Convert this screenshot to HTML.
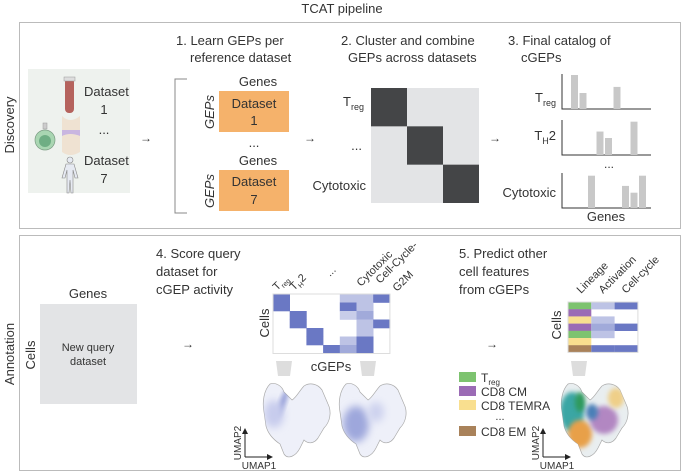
<!DOCTYPE html>
<html><head><meta charset="utf-8">
<style>
html,body{margin:0;padding:0;background:#fff;}
svg{display:block;font-family:"Liberation Sans",Arial,sans-serif;}
text{fill:#333;}
</style></head>
<body>
<svg id="fig" width="685" height="473" viewBox="0 0 685 473" xmlns="http://www.w3.org/2000/svg">
<defs>
 <filter id="blur2" x="-50%" y="-50%" width="200%" height="200%"><feGaussianBlur stdDeviation="2.5"/></filter>
 <filter id="blur4" x="-50%" y="-50%" width="200%" height="200%"><feGaussianBlur stdDeviation="4"/></filter>
 <clipPath id="umapClip"><path d="M8,2 C14,0 20,4 22,10 L30,18 C34,16 38,8 42,4 C48,0 56,2 60,8 L66,22 C70,30 68,40 62,46 L56,56 C52,62 46,62 42,58 L38,66 C34,74 26,78 22,72 L18,62 C12,58 6,52 4,44 L2,30 C0,20 2,8 8,2 Z"/></clipPath>
 <marker id="ah" markerWidth="6" markerHeight="6" refX="5" refY="3" orient="auto"><path d="M0,0 L6,3 L0,6 Z" fill="#222"/></marker>
</defs>

<text x="342" y="13" text-anchor="middle" font-size="13">TCAT pipeline</text>

<!-- Discovery panel -->
<rect x="19.5" y="22.5" width="661" height="206" fill="none" stroke="#bbb" stroke-width="1"/>
<text transform="translate(14,125) rotate(-90)" text-anchor="middle" font-size="13">Discovery</text>

<g>
 <rect x="28" y="69" width="102" height="124" fill="#eef2ee"/>
 <rect x="65" y="78" width="9" height="35" rx="4" fill="#b5635d"/>
 <rect x="64" y="77" width="11" height="4" fill="#ddd" stroke="#999" stroke-width="0.5"/>
 <path d="M62,116 Q70,124 80,116 L80,130 Q70,136 62,130 Z" fill="#efe2d2"/>
 <rect x="62" y="130" width="18" height="6" fill="#c9b6e0"/>
 <path d="M62,136 Q70,132 80,136 L80,152 Q70,158 62,152 Z" fill="#efe2d2"/>
 <circle cx="45" cy="140" r="10" fill="#a9d6b2" stroke="#7a9a82" stroke-width="0.7"/>
 <circle cx="45" cy="141" r="6" fill="#6fae84"/>
 <rect x="43" y="123" width="4" height="6" fill="#ccc" stroke="#999" stroke-width="0.5"/>
 <circle cx="70" cy="160" r="3" fill="#e6eaf2" stroke="#888" stroke-width="0.6"/>
 <path d="M66,164 L74,164 L78,178 L75,178 L73,170 L73,193 L71,193 L70,180 L69,193 L67,193 L67,170 L65,178 L62,178 Z" fill="#e6eaf2" stroke="#888" stroke-width="0.6"/>
 <text x="84" y="96" font-size="13">Dataset</text>
 <text x="104" y="114" font-size="13" text-anchor="middle">1</text>
 <text x="104" y="134" font-size="13" text-anchor="middle">...</text>
 <text x="84" y="165" font-size="13">Dataset</text>
 <text x="104" y="183" font-size="13" text-anchor="middle">7</text>
</g>
<text x="140" y="142" font-size="12">→</text>

<g>
 <text x="176" y="45" font-size="13">1. Learn GEPs per</text>
 <text x="190" y="62" font-size="13">reference dataset</text>
 <path d="M187,79 L175,79 L175,213 L187,213" fill="none" stroke="#888" stroke-width="1"/>
 <text x="258" y="86" font-size="13" text-anchor="middle">Genes</text>
 <rect x="219" y="91" width="70" height="41" fill="#f5b26b"/>
 <text x="254" y="108" font-size="13" text-anchor="middle">Dataset</text>
 <text x="254" y="125" font-size="13" text-anchor="middle">1</text>
 <text transform="translate(214,112) rotate(-90)" font-size="13" font-style="italic" text-anchor="middle">GEPs</text>
 <text x="254" y="147" font-size="13" text-anchor="middle">...</text>
 <text x="258" y="165" font-size="13" text-anchor="middle">Genes</text>
 <rect x="219" y="170" width="70" height="41" fill="#f5b26b"/>
 <text x="254" y="186" font-size="13" text-anchor="middle">Dataset</text>
 <text x="254" y="204" font-size="13" text-anchor="middle">7</text>
 <text transform="translate(214,191) rotate(-90)" font-size="13" font-style="italic" text-anchor="middle">GEPs</text>
</g>
<text x="304" y="142" font-size="12">→</text>

<g>
 <text x="341" y="45" font-size="13">2. Cluster and combine</text>
 <text x="348" y="62" font-size="13">GEPs across datasets</text>
 <g id="clusterMatrix"></g>
 <text x="364" y="106" font-size="13" text-anchor="end">T<tspan font-size="9" dy="4">reg</tspan></text>
 <text x="362" y="150" font-size="13" text-anchor="end">...</text>
 <text x="366" y="190" font-size="13" text-anchor="end">Cytotoxic</text>
</g>
<text x="489" y="142" font-size="12">→</text>

<g>
 <text x="508" y="45" font-size="13">3. Final catalog of</text>
 <text x="521" y="62" font-size="13">cGEPs</text>
 <text x="556" y="102" font-size="13" text-anchor="end">T<tspan font-size="9" dy="4">reg</tspan></text>
 <text x="556" y="140" font-size="13" text-anchor="end">T<tspan font-size="9" dy="4">H</tspan><tspan dy="-4">2</tspan></text>
 <text x="609" y="168" font-size="12" text-anchor="middle">...</text>
 <text x="556" y="197" font-size="13" text-anchor="end">Cytotoxic</text>
 <text x="606" y="221" font-size="13" text-anchor="middle">Genes</text>
 <g id="barCharts"></g>
</g>

<!-- Annotation panel -->
<rect x="19.5" y="235.5" width="661" height="235" fill="none" stroke="#bbb" stroke-width="1"/>
<text transform="translate(14,354) rotate(-90)" text-anchor="middle" font-size="13">Annotation</text>

<g>
 <text x="88" y="298" font-size="13" text-anchor="middle">Genes</text>
 <text transform="translate(35,355) rotate(-90)" font-size="13" text-anchor="middle">Cells</text>
 <rect x="40" y="304" width="97" height="100" fill="#e3e4e6"/>
 <text x="88" y="351" font-size="11" text-anchor="middle">New query</text>
 <text x="88" y="365" font-size="11" text-anchor="middle">dataset</text>
</g>
<text x="182" y="348" font-size="12">→</text>

<g>
 <text x="156" y="258" font-size="13">4. Score query</text>
 <text x="156" y="276" font-size="13">dataset for</text>
 <text x="156" y="294" font-size="13">cGEP activity</text>
 <text transform="translate(269,323) rotate(-90)" font-size="13" text-anchor="middle">Cells</text>
 <text x="331" y="371" font-size="13" text-anchor="middle">cGEPs</text>
 <g id="scoreHeatmap"></g>
 <g font-size="11">
  <text transform="translate(277,291) rotate(-45)">T<tspan font-size="7" dy="3">reg</tspan></text>
  <text transform="translate(294,291) rotate(-45)">T<tspan font-size="7" dy="3">H</tspan><tspan dy="-3">2</tspan></text>
  <text transform="translate(330,277) rotate(-45)">...</text>
  <text transform="translate(361,287) rotate(-45)">Cytotoxic</text>
  <text transform="translate(380,284) rotate(-45)">Cell-Cycle-</text>
  <text transform="translate(397,292) rotate(-45)">G2M</text>
 </g>
 <path d="M276,361 L292,361 L290,376 L278,376 Z" fill="#ddd"/>
 <path d="M360,361 L376,361 L374,376 L362,376 Z" fill="#ddd"/>
 <g transform="translate(262,382)">
  <path d="M8,2 C14,0 20,4 22,10 L30,18 C34,16 38,8 42,4 C48,0 56,2 60,8 L66,22 C70,30 68,40 62,46 L56,56 C52,62 46,62 42,58 L38,66 C34,74 26,78 22,72 L18,62 C12,58 6,52 4,44 L2,30 C0,20 2,8 8,2 Z" fill="#eef0f9" stroke="#aaa" stroke-width="0.7"/>
  <g clip-path="url(#umapClip)"><ellipse cx="20" cy="22" rx="3" ry="15" fill="#8e98d6" filter="url(#blur2)" transform="rotate(20 20 22)"/><ellipse cx="12" cy="32" rx="10" ry="14" fill="#c7cced" filter="url(#blur4)"/></g>
 </g>
 <g transform="translate(338,382)">
  <path d="M8,2 C14,0 20,4 22,10 L30,18 C34,16 38,8 42,4 C48,0 56,2 60,8 L66,22 C70,30 68,40 62,46 L56,56 C52,62 46,62 42,58 L38,66 C34,74 26,78 22,72 L18,62 C12,58 6,52 4,44 L2,30 C0,20 2,8 8,2 Z" fill="#eef0f9" stroke="#aaa" stroke-width="0.7"/>
  <g clip-path="url(#umapClip)"><ellipse cx="18" cy="42" rx="13" ry="18" fill="#9ea7dc" filter="url(#blur4)"/><ellipse cx="38" cy="30" rx="8" ry="10" fill="#cdd2ee" filter="url(#blur4)"/></g>
 </g>
 <g>
  <line x1="245" y1="457" x2="245" y2="429" stroke="#222" marker-end="url(#ah)"/>
  <line x1="245" y1="457" x2="272" y2="457" stroke="#222" marker-end="url(#ah)"/>
  <text transform="translate(241,443) rotate(-90)" font-size="10" text-anchor="middle">UMAP2</text>
  <text x="259" y="469" font-size="10" text-anchor="middle">UMAP1</text>
 </g>
</g>
<text x="486" y="348" font-size="12">→</text>

<g>
 <text x="459" y="258" font-size="13">5. Predict other</text>
 <text x="459" y="276" font-size="13">cell features</text>
 <text x="459" y="294" font-size="13">from cGEPs</text>
 <text transform="translate(561,325) rotate(-90)" font-size="13" text-anchor="middle">Cells</text>
 <g id="featHeatmap"></g>
 <g font-size="11">
  <text transform="translate(581,294) rotate(-45)">Lineage</text>
  <text transform="translate(603,294) rotate(-45)">Activation</text>
  <text transform="translate(626,294) rotate(-45)">Cell-cycle</text>
 </g>
 <g id="legend"></g>
 <path d="M571,361 L587,361 L585,376 L573,376 Z" fill="#ddd"/>
 <g transform="translate(560,382)">
  <path d="M8,2 C14,0 20,4 22,10 L30,18 C34,16 38,8 42,4 C48,0 56,2 60,8 L66,22 C70,30 68,40 62,46 L56,56 C52,62 46,62 42,58 L38,66 C34,74 26,78 22,72 L18,62 C12,58 6,52 4,44 L2,30 C0,20 2,8 8,2 Z" fill="#e9eef0" stroke="#aaa" stroke-width="0.7"/>
  <g clip-path="url(#umapClip)">
   <ellipse cx="12" cy="30" rx="12" ry="20" fill="#3aa6a4" filter="url(#blur2)"/>
   <ellipse cx="20" cy="20" rx="5" ry="10" fill="#2f9a5c" filter="url(#blur2)"/>
   <ellipse cx="20" cy="52" rx="12" ry="14" fill="#e8a048" filter="url(#blur2)"/>
   <ellipse cx="44" cy="38" rx="14" ry="14" fill="#b287c2" filter="url(#blur2)"/>
   <ellipse cx="56" cy="16" rx="8" ry="10" fill="#efcf88" filter="url(#blur2)"/>
   <ellipse cx="32" cy="30" rx="6" ry="8" fill="#4a7fb7" filter="url(#blur2)"/>
  </g>
 </g>
 <g>
  <line x1="543" y1="457" x2="543" y2="429" stroke="#222" marker-end="url(#ah)"/>
  <line x1="543" y1="457" x2="570" y2="457" stroke="#222" marker-end="url(#ah)"/>
  <text transform="translate(539,443) rotate(-90)" font-size="10" text-anchor="middle">UMAP2</text>
  <text x="557" y="469" font-size="10" text-anchor="middle">UMAP1</text>
 </g>
</g>
</svg>

<script>
// ---- data ----
const clusterBlocks = [0, 1, 2];
const barGenes1 = [0, 1, 5];
const barVals1 = [1.0, 0.47, 0.65];
const barGenes2 = [3, 4, 7];
const barVals2 = [0.69, 0.5, 0.98];
const barGenes3 = [2, 6, 7, 8];
const barVals3 = [0.95, 0.65, 0.45, 0.95];
const scoreCols = ["Treg", "TH2", "...", "...", "Cytotoxic", "Cell-Cycle", "G2M"];
const scoreMatrix = [
 [1, 0, 0, 0, 0.25, 0.25, 1],
 [1, 0, 0, 0, 1, 0.25, 0],
 [0, 1, 0, 0, 0.15, 0.5, 0],
 [0, 1, 0, 0, 0, 0.25, 1],
 [0, 0, 1, 0, 0, 0.25, 0],
 [0, 0, 1, 0, 0.25, 1, 0],
 [0, 0, 0, 1, 0.5, 1, 0]
];
const lineageRows = ["Treg", "CD8 CM", "CD8 TEMRA", "CD8 CM", "Treg", "CD8 TEMRA", "CD8 EM"];
const activationVals = [0.25, 0, 0.25, 0.5, 0.25, 0, 1];
const cellCycleVals = [1, 0, 0, 1, 0, 0, 1];
const legendLabels = ["Treg", "CD8 CM", "CD8 TEMRA", "CD8 EM"];
const legendColors = ["#7dc36f", "#9b6bb5", "#f9df8f", "#a9825a"];

const NS = "http://www.w3.org/2000/svg";
function mk(tag, attrs, parent){ const e=document.createElementNS(NS,tag); for(const k in attrs) e.setAttribute(k,attrs[k]); parent.appendChild(e); return e; }
function blue(v){ if(v<=0) return null; const a=[216,220,240], b=[106,120,196]; const t=Math.min(1,v); return `rgb(${Math.round(a[0]+(b[0]-a[0])*t)},${Math.round(a[1]+(b[1]-a[1])*t)},${Math.round(a[2]+(b[2]-a[2])*t)})`; }

// cluster matrix
const cm = document.getElementById('clusterMatrix');
const cmX = 371, cmY = 88, cmS = 108, nB = clusterBlocks.length, bs = cmS/nB;
const bg = mk('rect',{x:cmX,y:cmY,width:cmS,height:cmS+7,fill:'#e3e4e6'},cm);


clusterBlocks.forEach(i=>{
 const r = mk('rect',{x:cmX+i*bs,y:cmY+i*(cmS+7)/nB,width:bs,height:(cmS+7)/nB,fill:'#444547'},cm);
 
 
});

// bar charts
const bc = document.getElementById('barCharts');
const charts = [{g:barGenes1,v:barVals1,base:109},{g:barGenes2,v:barVals2,base:155},{g:barGenes3,v:barVals3,base:208}];
const axX0 = 562, axX1 = 651, barH = 34;
function xGene(i){ return 571 + i*8.5; }
function yVal(v, base){ return base - v*barH; }
charts.forEach((c,ci)=>{
 const ax = mk('path',{d:`M${axX0},${c.base-35} L${axX0},${c.base} L${axX1},${c.base}`,fill:'none',stroke:'#333','stroke-width':1},bc);
 
 
 c.g.forEach((gi,k)=>{
  const y = yVal(c.v[k], c.base);
  const r = mk('rect',{x:xGene(gi),y:y,width:7,height:c.base-y,fill:'#c8c8c8'},bc);
  
  
 });
});

// score heatmap
const sh = document.getElementById('scoreHeatmap');
const shX=273, shY=294, cw=16.7, rh=8.5;
scoreMatrix.forEach((row,ri)=>row.forEach((v,ci)=>{
 const col = blue(v); if(!col) return;
 const r = mk('rect',{x:shX+ci*cw,y:shY+ri*rh,width:cw+0.3,height:rh+0.3,fill:col},sh);
 
 
}));
const shb = mk('rect',{x:shX,y:shY,width:cw*scoreCols.length,height:rh*scoreMatrix.length,fill:'none',stroke:'#ddd','stroke-width':1},sh);



// feature heatmap
const fh = document.getElementById('featHeatmap');
const fx=568, fy=302, fw=23.3, fr=7.2;
lineageRows.forEach((lab,ri)=>{
 const r = mk('rect',{x:fx,y:fy+ri*fr,width:fw,height:fr+0.2,fill:legendColors[legendLabels.indexOf(lab)]},fh);
 
 
});
[activationVals, cellCycleVals].forEach((vals,ci)=>vals.forEach((v,ri)=>{
 const col = blue(v); if(!col) return;
 const r = mk('rect',{x:fx+(ci+1)*fw,y:fy+ri*fr,width:fw,height:fr+0.2,fill:col},fh);
 
 
}));
const fb = mk('rect',{x:fx,y:fy,width:fw*3,height:fr*lineageRows.length,fill:'none',stroke:'#ddd','stroke-width':1},fh);



// legend
const lg = document.getElementById('legend');
const legY = [372, 386, 400, 426];
legendLabels.forEach((lab,i)=>{
 const s = mk('rect',{x:459,y:legY[i],width:17,height:10,fill:legendColors[i]},lg);
 
 
 const t = mk('text',{x:481,y:legY[i]+10,'font-size':12},lg);
 
 
 if(lab==="Treg"){ t.textContent="T"; const ts=mk('tspan',{'font-size':8,dy:3},t); ts.textContent="reg"; }
 else t.textContent=lab;
});
const dots = mk('text',{x:500,y:420,'font-size':11,'text-anchor':'middle'},lg);


dots.textContent="...";
</script>
</body></html>
